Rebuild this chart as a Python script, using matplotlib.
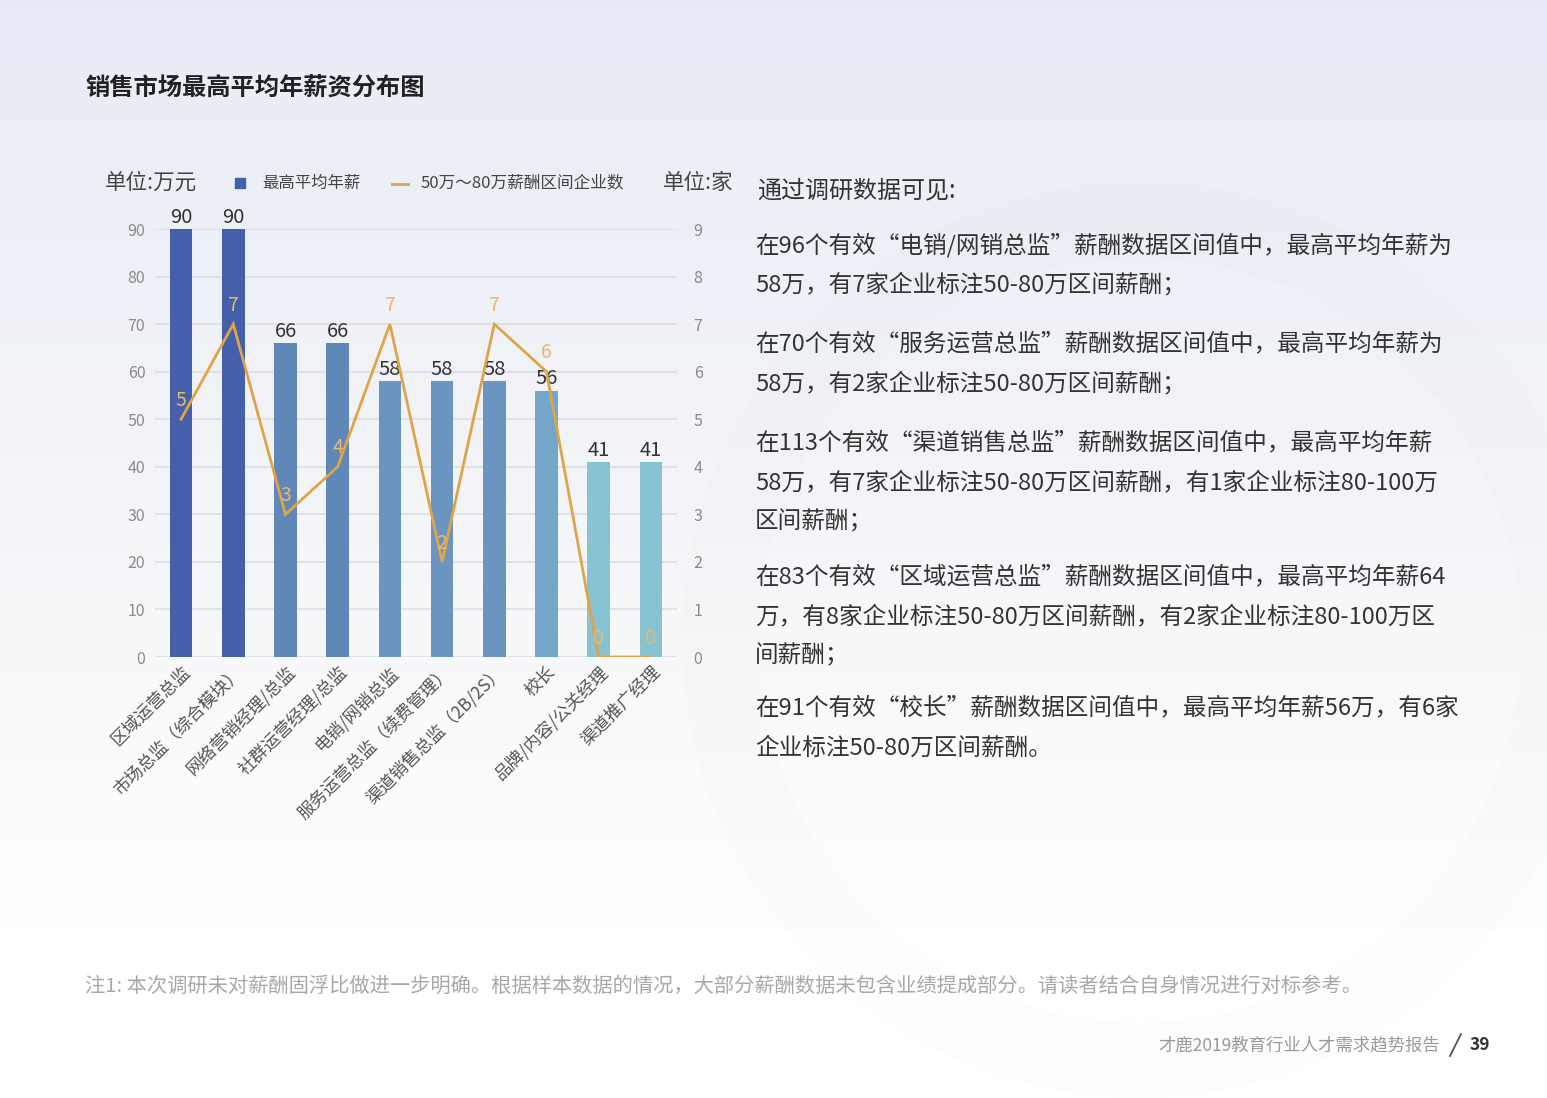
import matplotlib
matplotlib.use("Agg")
import matplotlib.pyplot as plt
import numpy as np
from matplotlib.patches import Rectangle, Circle
from matplotlib.lines import Line2D

plt.rcParams['font.family'] = ['Noto Sans CJK SC', 'DejaVu Sans']

# ---------------- data ----------------
categories = ['区域运营总监', '市场总监（综合模块）', '网络营销经理/总监', '社群运营经理/总监',
              '电销/网销总监', '服务运营总监（续费管理）', '渠道销售总监（2B/2S）', '校长',
              '品牌/内容/公关经理', '渠道推广经理']
salary = [90, 90, 66, 66, 58, 58, 58, 56, 41, 41]
companies = [5, 7, 3, 4, 7, 2, 7, 6, 0, 0]
left_ticks = [0, 10, 20, 30, 40, 50, 60, 70, 80, 90]
right_ticks = [0, 1, 2, 3, 4, 5, 6, 7, 8, 9]

title = '销售市场最高平均年薪资分布图'
legend_bar = '最高平均年薪'
legend_line = '50万～80万薪酬区间企业数'
unit_left = '单位:万元'
unit_right = '单位:家'
body_header = '通过调研数据可见:'
body_lines = [
    '在96个有效“电销/网销总监”薪酬数据区间值中，最高平均年薪为',
    '58万，有7家企业标注50-80万区间薪酬；',
    '在70个有效“服务运营总监”薪酬数据区间值中，最高平均年薪为',
    '58万，有2家企业标注50-80万区间薪酬；',
    '在113个有效“渠道销售总监”薪酬数据区间值中，最高平均年薪',
    '58万，有7家企业标注50-80万区间薪酬，有1家企业标注80-100万',
    '区间薪酬；',
    '在83个有效“区域运营总监”薪酬数据区间值中，最高平均年薪64',
    '万，有8家企业标注50-80万区间薪酬，有2家企业标注80-100万区',
    '间薪酬；',
    '在91个有效“校长”薪酬数据区间值中，最高平均年薪56万，有6家',
    '企业标注50-80万区间薪酬。',
]
footnote = '注1: 本次调研未对薪酬固浮比做进一步明确。根据样本数据的情况，大部分薪酬数据未包含业绩提成部分。请读者结合自身情况进行对标参考。'
footer = '才鹿2019教育行业人才需求趋势报告'
page_no = '39'

bar_colors = ['#4560AB', '#4560AB', '#5F88B9', '#5F88B9', '#6A95C0', '#6A95C0',
              '#6A95C0', '#73A6C9', '#87C3D3', '#87C3D3']
line_color = '#E0A448'
label_orange = '#E9B76E'

W, H = 1547, 1098
fig = plt.figure(figsize=(W / 100, H / 100), dpi=100)


def fx(x):
    return x / W


def fy(y):
    return 1 - y / H


# ---------------- background ----------------
bg = fig.add_axes([0, 0, 1, 1], zorder=-10)
top = np.array([0.906, 0.925, 0.965])
mid = np.array([0.955, 0.960, 0.972])
bot = np.array([1.0, 1.0, 1.0])
img = np.zeros((256, 1, 3))
for i in range(256):
    v = i / 255
    if v < 0.45:
        c = top + (mid - top) * (v / 0.45)
    else:
        c = mid + (bot - mid) * min(1, (v - 0.45) / 0.4)
    img[i, 0] = c
bg.imshow(img, aspect='auto', extent=[0, W, H, 0])
bg.set_xlim(0, W)
bg.set_ylim(H, 0)
# faint watermark ring
ring = Circle((1140, 640), 420, fill=False, lw=55, ec='#000000', alpha=0.009)
bg.add_patch(ring)
bg.axis('off')

# ---------------- chart ----------------
ax = fig.add_axes([fx(155), fy(657), fx(677) - fx(155), fy(229) - fy(657)])
ax.patch.set_alpha(0)
x = np.arange(len(categories))
bars = ax.bar(x, salary, width=0.43, color=bar_colors, zorder=3)
ax.set_xlim(-0.5, len(categories) - 0.5)
ax.set_ylim(0, 90)
ax.set_yticks(left_ticks)
ax.set_yticklabels([str(v) for v in left_ticks], color='#8A8A8A', fontsize=11.5,
                   fontweight='light')
for s in ax.spines.values():
    s.set_visible(False)
ax.tick_params(axis='y', length=0, pad=7)
ax.tick_params(axis='x', length=0, pad=4)
ax.grid(axis='y', color='#DCDDE2', lw=1.1, zorder=0)
ax.set_axisbelow(True)
ax.set_xticks(x)
ax.set_xticklabels(categories, rotation=45, ha='right', va='top',
                   rotation_mode='anchor', fontsize=12.5, color='#555555',
                   fontweight='light')
for xi, v in zip(x, salary):
    ax.annotate(str(v), (xi, v), xytext=(0, 1), textcoords='offset points',
                ha='center', va='bottom', fontsize=14.5, color='#333333',
                fontweight='light', annotation_clip=False, zorder=5)

ax2 = ax.twinx()
ax2.set_ylim(0, 9)
ax2.set_yticks(right_ticks)
ax2.set_yticklabels([str(v) for v in right_ticks], color='#8A8A8A', fontsize=11.5,
                    fontweight='light')
for s in ax2.spines.values():
    s.set_visible(False)
ax2.tick_params(axis='y', length=0, pad=12)
ax2.plot(x, companies, color=line_color, lw=2, zorder=4, solid_joinstyle='miter')
for xi, v in zip(x, companies):
    ax2.annotate(str(v), (xi, v), xytext=(0, 6), textcoords='offset points',
                 ha='center', va='bottom', fontsize=14, color=label_orange,
                 fontweight='light', annotation_clip=False, zorder=6)

# ---------------- legend / units ----------------
fig.text(fx(105), fy(183), unit_left, ha='left', va='center', fontsize=15.5,
         color='#444444', fontweight='light')
fig.text(fx(733), fy(183), unit_right, ha='right', va='center', fontsize=15.5,
         color='#444444', fontweight='light')
fig.patches.append(Rectangle((fx(235), fy(188)), fx(10), 10 / H, color='#4560AB',
                             transform=fig.transFigure, figure=fig))
fig.text(fx(262), fy(183), legend_bar, ha='left', va='center', fontsize=11.8,
         color='#444444', fontweight='light')
fig.lines.append(Line2D([fx(392), fx(408)], [fy(184), fy(184)], color=line_color,
                        lw=2, transform=fig.transFigure, figure=fig))
fig.text(fx(421), fy(183), legend_line, ha='left', va='center', fontsize=12,
         color='#444444', fontweight='light')

# ---------------- title ----------------
fig.text(fx(85), fy(88), title, ha='left', va='center', fontsize=17.5,
         color='#222222', fontweight='bold')

# ---------------- body text ----------------
fig.text(fx(757), fy(190), body_header, ha='left', va='center', fontsize=17.3,
         color='#333333', fontweight='light')
line_y = [245, 285, 344, 384, 443, 483, 522, 577, 617, 656, 708, 748]
for ly, s in zip(line_y, body_lines):
    fig.text(fx(755), fy(ly), s, ha='left', va='center', fontsize=17,
             color='#333333', fontweight='light')

# ---------------- footnote / footer ----------------
fig.text(fx(85), fy(986), footnote, ha='left', va='center', fontsize=14.6,
         color='#A8A8A8', fontweight='light')
fig.text(fx(1440), fy(1045), footer, ha='right', va='center', fontsize=12.5,
         color='#9A9A9A', fontweight='light')
fig.lines.append(Line2D([fx(1450), fx(1461)], [fy(1056), fy(1034)], color='#555555',
                        lw=1.3, transform=fig.transFigure, figure=fig))
fig.text(fx(1470), fy(1045), page_no, ha='left', va='center', fontsize=12.5,
         color='#333333', fontweight='bold')

fig.savefig('out.png', dpi=100)
